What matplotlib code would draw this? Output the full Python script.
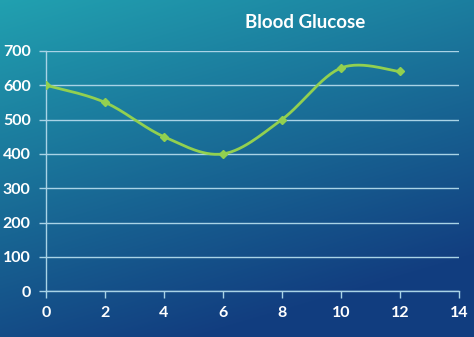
import matplotlib
matplotlib.use("Agg")
import matplotlib.pyplot as plt
import numpy as np

hours = [0, 2, 4, 6, 8, 10, 12]
glucose = [600, 550, 450, 400, 500, 650, 640]
x_ticks = [0, 2, 4, 6, 8, 10, 12, 14]
y_ticks = [0, 100, 200, 300, 400, 500, 600, 700]

LINE = "#92d050"
GRID = "#a9d3e6"
TEXT = "white"

plt.rcParams["font.family"] = ["Lato", "DejaVu Sans"]


def smooth_curve(xs, ys, steps=30):
    # Catmull-Rom style bezier through the points, like an office "smoothed line"
    xs = np.asarray(xs, float)
    ys = np.asarray(ys, float)
    px = np.concatenate([[xs[0]], xs, [xs[-1]]])
    py = np.concatenate([[ys[0]], ys, [ys[-1]]])
    out_x, out_y = [], []
    t = np.linspace(0, 1, steps)
    for i in range(1, len(px) - 2):
        p0 = np.array([px[i], py[i]])
        p3 = np.array([px[i + 1], py[i + 1]])
        c1 = p0 + (np.array([px[i + 1], py[i + 1]]) - np.array([px[i - 1], py[i - 1]])) / 6
        c2 = p3 - (np.array([px[i + 2], py[i + 2]]) - np.array([px[i], py[i]])) / 6
        b = ((1 - t) ** 3)[:, None] * p0 + (3 * (1 - t) ** 2 * t)[:, None] * c1 \
            + (3 * (1 - t) * t ** 2)[:, None] * c2 + (t ** 3)[:, None] * p3
        out_x.extend(b[:, 0])
        out_y.extend(b[:, 1])
    return np.array(out_x), np.array(out_y)


fig = plt.figure(figsize=(4.74, 3.37), dpi=100)

# background gradient: teal at the top left, deep blue at the bottom
bg = fig.add_axes([0, 0, 1, 1], zorder=-1)
gy, gx = np.mgrid[0:1:200j, 0:1:300j]
top_left = np.array([0.13, 0.63, 0.69])
bottom = np.array([0.07, 0.24, 0.50])
w = np.clip(gy * 0.85 + gx * 0.35, 0, 1)[..., None]
img = top_left * (1 - w) + bottom * w
bg.imshow(img, extent=[0, 1, 0, 1], aspect="auto", origin="upper")
bg.axis("off")

ax = fig.add_axes([0.097, 0.136, 0.871, 0.713])
ax.set_facecolor("none")

sx, sy = smooth_curve(hours, glucose)
ax.plot(sx, sy, color=LINE, lw=2.0, zorder=3)
ax.plot(hours, glucose, linestyle="none", marker="D", ms=4.5, color=LINE, zorder=4)

ax.set_xlim(0, 14)
ax.set_ylim(0, 700)
ax.set_xticks(x_ticks)
ax.set_yticks(y_ticks)
ax.grid(axis="y", color=GRID, lw=1.0)
ax.set_axisbelow(True)

for side in ("top", "right"):
    ax.spines[side].set_visible(False)
for side in ("left", "bottom"):
    ax.spines[side].set_color(GRID)
    ax.spines[side].set_linewidth(1.0)

ax.tick_params(axis="x", colors=GRID, direction="out", length=5, width=1.0,
               labelcolor=TEXT, labelsize=11.5, pad=6)
ax.tick_params(axis="y", colors=GRID, direction="out", length=5, width=1.0,
               labelcolor=TEXT, labelsize=11.5, pad=6)
for lbl in ax.get_xticklabels() + ax.get_yticklabels():
    lbl.set_fontweight("bold")

fig.text(0.644, 0.932, "Blood Glucose", color=TEXT, fontsize=13.5,
         fontweight="bold", ha="center", va="center")

fig.savefig("out.png", dpi=100)
